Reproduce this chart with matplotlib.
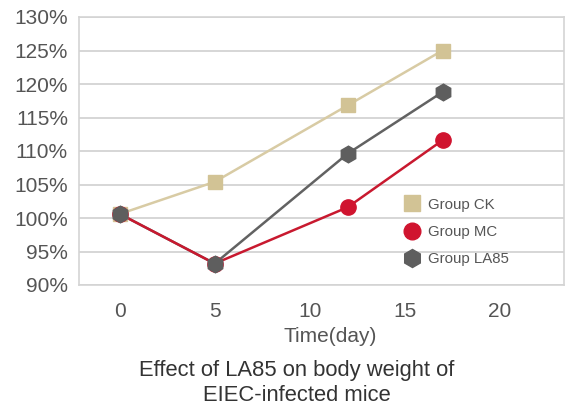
import matplotlib.pyplot as plt
from matplotlib.lines import Line2D
from matplotlib.ticker import FuncFormatter

plt.rcParams['font.family'] = ['Liberation Sans', 'DejaVu Sans']

days = [0, 5, 12, 17]
group_ck = [100.6, 105.4, 116.8, 125.0]
group_mc = [100.6, 93.2, 101.6, 111.6]
group_la85 = [100.6, 93.2, 109.6, 118.8]
labels = ['Group CK', 'Group MC', 'Group LA85']
x_ticks = [0, 5, 10, 15, 20]
y_ticks = [90, 95, 100, 105, 110, 115, 120, 125, 130]

ck_col, mc_col, la_col = '#d2c395', '#d0142f', '#5e5e5e'

fig = plt.figure(figsize=(5.83, 4.2), dpi=100)
ax = fig.add_axes([79 / 583, 1 - 285 / 420, (564 - 79) / 583, (285 - 17) / 420])

# lines first (red over grey), markers on top
ax.plot(days, group_ck, color='#d8cba4', lw=1.8, zorder=3)
ax.plot(days, group_la85, color='#626262', lw=1.8, zorder=4)
ax.plot(days, group_mc, color='#c8192f', lw=1.8, zorder=5)
ax.plot(days, group_ck, ls='none', marker='s', ms=10, mfc=ck_col, mec=ck_col, zorder=6)
ax.plot(days, group_mc, ls='none', marker='o', ms=11, mfc=mc_col, mec=mc_col, zorder=7)
ax.plot(days, group_la85, ls='none', marker='h', ms=12, mfc=la_col, mec=la_col, zorder=8)

ax.set_xlim(-2.15, 23.4)
ax.set_ylim(90, 130)
ax.set_xticks(x_ticks)
ax.set_yticks(y_ticks)
ax.yaxis.set_major_formatter(FuncFormatter(lambda v, p: f'{v:.0f}%'))
ax.grid(axis='y', color='#d0d0d0', lw=1.2)
ax.set_axisbelow(True)
for s in ax.spines.values():
    s.set_color('#d4d4d4')
    s.set_linewidth(1.2)
ax.tick_params(length=0, labelsize=15, colors='#555555', pad=8)
ax.tick_params(axis='x', pad=12)

ax.set_xlabel('Time(day)', fontsize=15, color='#555555')
ax.xaxis.set_label_coords((330 - 79) / (564 - 79), -(337 - 285) / (285 - 17))
ax.xaxis.label.set_va('center')

# legend: markers only, no line
handles = [
    Line2D([], [], ls='none', marker='s', ms=11, mfc=ck_col, mec=ck_col),
    Line2D([], [], ls='none', marker='o', ms=12, mfc=mc_col, mec=mc_col),
    Line2D([], [], ls='none', marker='h', ms=13, mfc=la_col, mec=la_col),
]
ax.legend(handles, labels, loc='center left',
          bbox_to_anchor=((404 - 79) / (564 - 79), 1 - (232 - 17) / (285 - 17)),
          frameon=False, fontsize=10.8, labelcolor='#555555', handlelength=1.0,
          handletextpad=0.6, labelspacing=0.9, borderpad=0, borderaxespad=0)

fig.text(297 / 583, 1 - 383 / 420,
         'Effect of LA85 on body weight of\nEIEC-infected mice',
         ha='center', va='center', fontsize=15.8, color='#333333', linespacing=1.25)

fig.savefig('out.png', dpi=100)
